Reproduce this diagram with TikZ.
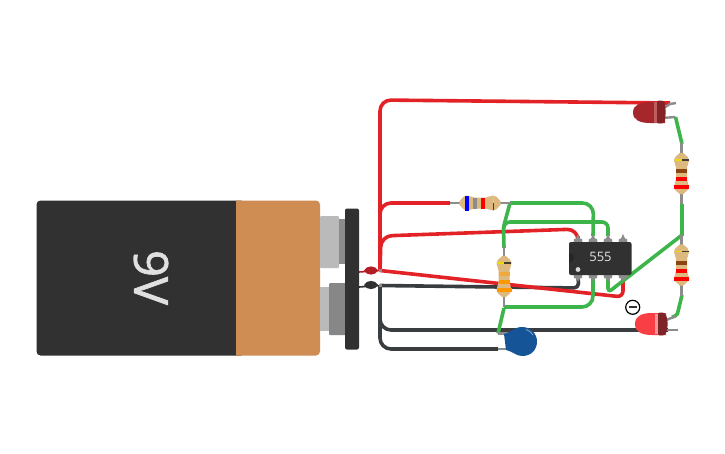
\documentclass[tikz,border=0pt]{standalone}
\usepackage{fontspec}
\setmainfont{Open Sans}
\newfontfamily\batfont{Open Sans}[FakeBold=1.6]
\definecolor{wred}{HTML}{E32227}
\definecolor{wgreen}{HTML}{3DB54A}
\definecolor{wblack}{HTML}{3A3D40}
\definecolor{lead}{HTML}{8C8C8C}
\definecolor{rtan}{HTML}{DDB87F}
\definecolor{body}{HTML}{313131}
\definecolor{copper}{HTML}{CF8C53}
\definecolor{snapred}{HTML}{B21E23}
\definecolor{ledtop}{HTML}{A6272B}
\definecolor{ringtop}{HTML}{842327}
\definecolor{ledbot}{HTML}{FA3E46}
\definecolor{ringbot}{HTML}{7D2428}
\definecolor{capblue}{HTML}{165498}
\definecolor{lightor}{HTML}{F2A93B}
\definecolor{strongor}{HTML}{FF9800}
\definecolor{rbrown}{HTML}{8B4513}
\tikzset{
  wire/.style={line width=3.6pt,rounded corners=11pt,line join=round},
  redw/.style={wire,draw=wred},
  greenw/.style={wire,draw=wgreen},
  blackw/.style={wire,draw=wblack},
  leadw/.style={line width=2.4pt,draw=lead},
  pin/.style={fill=lead,draw=none},
}
\newcommand{\resistorpart}[6]{%
 \begin{scope}[shift={(#1,#2)},rotate=#3]
 \draw[leadw] (-30.5,0) -- (30.5,0);
 \fill[rtan,rounded corners=2pt] (-22,0) -- (-15.5,-7.5) -- (-11,-7.5) -- (-8,-5.5) -- (8,-5.5) -- (11,-7.5) -- (15.5,-7.5) -- (22,0) -- (15.5,7.5) -- (11,7.5) -- (8,5.5) -- (-8,5.5) -- (-11,7.5) -- (-15.5,7.5) -- cycle;
 \fill[#4] (-15.5,-7.5) rectangle (-11.5,7.5);
 \fill[#5] (-7.5,-5.5) rectangle (-3.5,5.5);
 \fill[#6] (0.5,-5.5) rectangle (4.5,5.5);
 \fill[yellow!80!olive] (12.8,-7) rectangle (14.2,0);
 \fill[black!70!olive] (12.8,0) rectangle (14.2,7);
 \end{scope}}
\begin{document}
\begin{tikzpicture}[x=1pt,y=-1pt]
\useasboundingbox (0,0) rectangle (725,453);
\fill[white] (0,0) rectangle (725,453);
% battery
\fill[rounded corners=4pt,fill=body] (36.5,200.5) -- (245,200.5) -- (245,355.5) -- (36.5,355.5) -- cycle;
\fill[fill=copper] (236,200.5) {[rounded corners=4pt] -- (320,200.5) -- (320,355.5)} -- (236,355.5) -- cycle;
\node[rotate=-90,text=white!88!black,font=\batfont\fontsize{47}{50}\selectfont] (lab9v) at (151,277.5) {9V};
\fill[rounded corners=1pt,fill=black!27] (320,216) rectangle (339,268);
\fill[fill=black!45] (339,219) rectangle (346,264);
\fill[fill=black!27] (320,287) rectangle (330,331);
\fill[rounded corners=1pt,fill=black!47] (329,283) rectangle (346,335);
\fill[rounded corners=2pt,fill=body] (345,208.5) rectangle (359,349.5);
% battery leads
\draw[line width=1.6pt,draw=snapred] (359,272) -- (380,270.5);
\fill[fill=snapred] (364,270.5) .. controls (367,265) and (375,265) .. (378,270.5) .. controls (375,276) and (367,276) .. (364,270.5) -- cycle;
\draw[line width=1.6pt,draw=body] (359,287) -- (380,285.5);
\fill[fill=body] (364,285) .. controls (367,279.5) and (375,279.5) .. (378,285) .. controls (375,290.5) and (367,290.5) .. (364,285) -- cycle;
\coordinate (bp) at (380,270.5);
\coordinate (bn) at (380,285.5);
\coordinate (chipt1) at (578,236);
\coordinate (chipt2) at (593,236);
\coordinate (chipt3) at (608,236);
\coordinate (chipb1) at (578,278);
\coordinate (chipb2) at (593,278);
\coordinate (chipb3) at (608,278);
\coordinate (chipb4) at (623,278);
\coordinate (capa) at (498,333.5);
\coordinate (capb) at (498,349);
\coordinate (ledbotk) at (668,330);
\coordinate (ledtopa) at (670,103);
% black
\draw[blackw] (bn) -- (380,349) -- (capb);
\draw[blackw] (bn) -- (380,330) -- (ledbotk);
\draw[blackw,rounded corners=5pt] (bn) -- (579,288) -- (chipb1);
% red
\draw[redw] (bp) -- (380,100) -- (ledtopa);
\draw[redw] (bp) -- (380,203) -- (450,203);
\draw[redw] (bp) -- (381,236) -- (578,229) -- (chipt1);
\draw[redw,rounded corners=6pt] (bp) -- (623,297) -- (chipb4);
% green
\draw[greenw] (510,203) -- (593.5,203) -- (chipt2);
\draw[greenw,rounded corners=3pt] (510,203) -- (503.5,227) -- (504,248);
\draw[greenw,rounded corners=6pt] (503.5,229) -- (504,222) -- (608,222) -- (chipt3);
\draw[greenw] (504,307) -- (593,307) -- (chipb2);
\draw[greenw] (504,308) -- (capa);
\draw[greenw,rounded corners=4pt] (chipb3) -- (608,292.5) -- (682,235);
\draw[greenw] (682,204) -- (682,236);
\draw[greenw,rounded corners=2pt] (682,295) -- (677,315.5) -- (672,317);
\draw[greenw] (675.5,117) -- (682,144);
% resistors
\resistorpart{480}{203}{0}{blue}{lead}{red}
\resistorpart{504}{276.5}{90}{strongor}{strongor}{lightor}
\resistorpart{681.5}{173.5}{90}{red}{red}{rbrown}
\resistorpart{681.5}{265}{90}{red}{red}{rbrown}
% chip
\foreach \x in {578,593,608,623}{
 \fill[pin] (\x-4.5,243) -- (\x-4,239) -- (\x-2,238.5) -- (\x,234) -- (\x+2,238.5) -- (\x+4,239) -- (\x+4.5,243) -- cycle;
 \fill[pin] (\x-4.5,274) -- (\x+4.5,274) -- (\x+4,278) -- (\x+2,278.5) -- (\x,281.5) -- (\x-2,278.5) -- (\x-4,278) -- cycle;
}
\fill[rounded corners=2pt,fill=body] (569,242) rectangle (631.5,275);
\fill[fill=black!85] (569,253) arc (90:-90:5pt) -- cycle;
\fill[white!85!black] (578,269.5) circle (2.4pt);
\node[text=white!90!black,font=\fontsize{13}{14}\selectfont] (chiplabel) at (600.5,257) {555};
% top LED
\draw[leadw] (662,118) -- (675.5,117);
\draw[leadw] (662,109) -- (670,104) -- (676,103);
\fill[fill=ledtop] (665,102) -- (650,102) .. controls (640,102) and (633,105) .. (633,112.5) .. controls (633,120) and (640,123) .. (650,123) -- (665,123) -- cycle;
\fill[fill=ringtop,rounded corners=2pt] (657,100.5) -- (661,100.5) .. controls (664,101) and (665.5,105) .. (665.5,112) .. controls (665.5,119) and (664,123) .. (661,123.5) -- (657,123.5) -- cycle;
\fill[white,opacity=.25] (653.5,102) rectangle (656.5,123);
% bottom LED
\draw[leadw] (664,330) -- (678,330);
\draw[leadw] (664,321) -- (676,316);
\fill[fill=ledbot] (666,313) -- (652,313) .. controls (642,313) and (635,316) .. (635,324) .. controls (635,332) and (642,335) .. (652,335) -- (666,335) -- cycle;
\fill[fill=ringbot,rounded corners=2pt] (658,312.5) -- (662,312.5) .. controls (665,313) and (667.5,317) .. (667.5,324) .. controls (667.5,331) and (665,335) .. (662,335.5) -- (658,335.5) -- cycle;
\fill[white,opacity=.45] (655,314) rectangle (658,334);
% minus badge
\node[circle,draw=black,fill=white,line width=1.2pt,inner sep=0pt,minimum size=14pt] (minus) at (632.7,307.3) {};
\fill[black!80] (629,306.3) rectangle (636.5,308.3);
% capacitor
\draw[leadw] (498,333.5) -- (510,333.5);
\draw[leadw] (498,349) -- (510,349);
\fill[fill=capblue] (504,334) .. controls (510,333) and (514,327) .. (522,327) .. controls (531,327) and (537,334) .. (537,341.5) .. controls (537,350) and (531,356) .. (522,356) .. controls (516,356) and (512,351) .. (506,350) -- cycle;
\draw[white,opacity=.45,line width=.8pt] (526,329.5) .. controls (529,330.5) and (531,332) .. (533,335);
% terminal squares
\fill[lead] (378.5,268.8) rectangle (382,272.3);
\fill[lead] (378.5,283.8) rectangle (382,287.3);
\end{tikzpicture}
\end{document}
